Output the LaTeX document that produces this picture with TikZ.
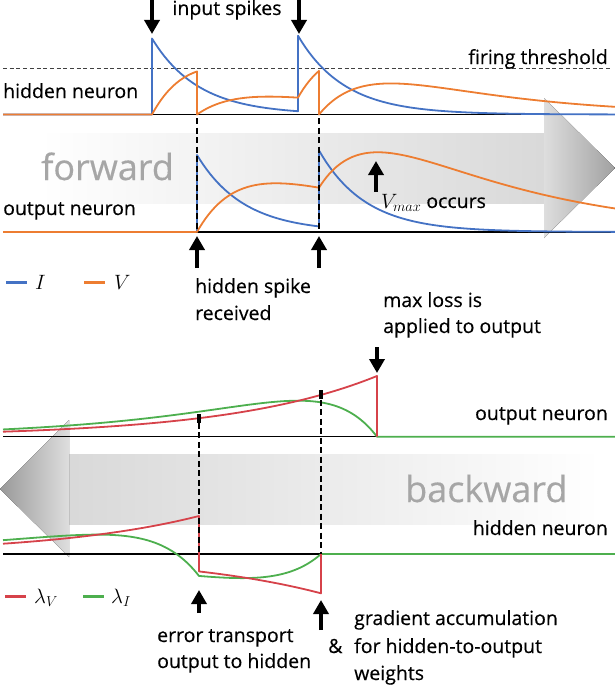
\documentclass[tikz,border=0pt]{standalone}
\usepackage{fontspec}
\setmainfont{Open Sans}[FakeBold=0.4]
\usetikzlibrary{arrows.meta}
\definecolor{cI}{HTML}{4472C4}
\definecolor{cV}{HTML}{ED7D31}
\definecolor{cLV}{HTML}{D6424A}
\definecolor{cLI}{HTML}{4DAF4E}
\definecolor{bigtxt}{HTML}{A6A6A6}
\begin{document}
\begin{tikzpicture}[x=1pt,y=-1pt,
  crv/.style={line width=1.8pt,line join=round},
  axisline/.style={black,line width=1.3pt},
  lbl/.style={inner sep=0pt,font=\fontsize{19.5}{24}\selectfont},
  biglbl/.style={inner sep=0pt,font=\fontsize{36}{40}\selectfont,text=bigtxt},
  bigarrow/.style={line width=3.8pt,-{Triangle[width=15pt,length=14pt]}},
  vdash/.style={black,line width=1.4pt,dash pattern=on 6pt off 3.5pt},
  thr/.style={black!75,line width=1pt,dash pattern=on 4pt off 2.7pt},
  marker/.style={fill=black,draw=none,minimum width=4pt,minimum height=9pt,inner sep=0pt},
  legline/.style={line width=3pt},
]
\useasboundingbox (0,0) rectangle (615,685);

% ---------- big gradient arrows ----------
\fill[left color=white,right color=black!15] (40,133) rectangle (545,203);
\fill[left color=black!13,right color=black!37] (544,98) -- (615,168) -- (544,238) -- cycle;
\fill[left color=black!15,right color=white] (68,454) rectangle (600,524);
\fill[left color=black!40,right color=black!13] (0,489) -- (69,420) -- (69,557) -- cycle;
\node[biglbl,anchor=base west] (fw) at (41,180) {forward};
\node[biglbl,anchor=base west] (bw) at (405,502) {backward};

% ---------- hidden neuron (forward) ----------
\draw[thr] (3,69) -- (612,69);
\draw[axisline] (3,114.5) -- (615,114.5);
\draw[crv,cI] (3,114.5) -- (152,114.5)
  -- plot[domain=152:298,samples=80] (\x,{114.5-76*exp(-(\x-152)/46.5)})
  -- plot[domain=298:615,samples=120] (\x,{114.5-78.79*exp(-(\x-298)/46.5)});
\draw[crv,cV] (3,114.5)
  -- plot[domain=152:197,samples=40] (\x,{114.5-139.92*(exp(-(\x-152)/120)-exp(-(\x-152)/46.5))})
  -- (197,114.5)
  -- plot[domain=197:298,samples=60] (\x,{114.5-53.16*(exp(-(\x-197)/120)-exp(-(\x-197)/46.5))})
  -- plot[domain=298:319,samples=20] (\x,{114.5-16.853*exp(-(\x-298)/120)-145.06*(exp(-(\x-298)/120)-exp(-(\x-298)/46.5))})
  -- (319,114.5)
  -- plot[domain=319:615,samples=120] (\x,{114.5-92.35*(exp(-(\x-319)/120)-exp(-(\x-319)/46.5))});

% ---------- output neuron (forward) ----------
\draw[axisline] (3,232) -- (615,232);
\draw[crv,cI] (3,232) -- (197,232)
  -- plot[domain=197:319,samples=70] (\x,{232-77*exp(-(\x-197)/46.5)})
  -- plot[domain=319:615,samples=120] (\x,{232-81.59*exp(-(\x-319)/46.5)});
\draw[crv,cV] (3,232)
  -- plot[domain=197:319,samples=70] (\x,{232-119.45*(exp(-(\x-197)/150)-exp(-(\x-197)/46.5))})
  -- plot[domain=319:615,samples=120] (\x,{232-44.30*exp(-(\x-319)/150)-126.57*(exp(-(\x-319)/150)-exp(-(\x-319)/46.5))});

% dashed links hidden -> output
\coordinate (fh1) at (197,114.5); \coordinate (fo1) at (197,232);
\coordinate (fh2) at (319,114.5); \coordinate (fo2) at (319,232);
\draw[vdash,dash phase=6pt] (fh1) -- (fo1);
\draw[vdash,dash phase=6pt] (fh2) -- (fo2);

% ---------- output neuron (backward) ----------
\draw[axisline] (3,436.7) -- (615,436.7);
\draw[crv,cLI] plot[domain=3:377,samples=120] (\x,{436.7-88.3*(exp(-(377-\x)/150)-exp(-(377-\x)/46.5))})
  -- (615,436.7);
\draw[crv,cLV] plot[domain=3:377,samples=120] (\x,{436.7-60.7*exp(-(377-\x)/150)})
  -- (377,436.7);

% ---------- hidden neuron (backward) ----------
\draw[axisline,line width=1.1pt] (3,554) -- (615,554);
\draw[crv,cLI]
  plot[domain=3:199,samples=100] (\x,{554+22*exp(-(199-\x)/46.5)-55.3*(exp(-(199-\x)/150)-exp(-(199-\x)/46.5))})
  -- plot[domain=199:321,samples=70] (\x,{554+59.1*(exp(-(321-\x)/150)-exp(-(321-\x)/46.5))})
  -- (615,554);
\draw[crv,cLV]
  plot[domain=3:199,samples=100] (\x,{554-38*exp(-(199-\x)/150)})
  -- plot[domain=199:321,samples=60] (\x,{554+39.3*exp(-(321-\x)/150)})
  -- (321,554);

% markers and dashed links output -> hidden
\node[marker] (mk1) at (199,{436.7-60.7*exp(-178/150)}) {};
\node[marker] (mk2) at (321,{436.7-60.7*exp(-56/150)}) {};
\coordinate (bh1) at (199,554); \coordinate (bh2) at (321,554);
\draw[vdash] (mk1.south) -- (bh1);
\draw[vdash] (mk2.south) -- (bh2);

% ---------- arrows ----------
\coordinate (in1s) at (152,-1); \coordinate (in1e) at (152,34);
\coordinate (in2s) at (299,-1); \coordinate (in2e) at (299,34);
\draw[bigarrow] (in1s) -- (in1e);
\draw[bigarrow] (in2s) -- (in2e);
\coordinate (r1s) at (197,268); \coordinate (r1e) at (197,236);
\coordinate (r2s) at (319,268); \coordinate (r2e) at (319,236);
\draw[bigarrow] (r1s) -- (r1e);
\draw[bigarrow] (r2s) -- (r2e);
\coordinate (vms) at (376,192); \coordinate (vme) at (376,161);
\draw[bigarrow] (vms) -- (vme);
\coordinate (mls) at (377,347); \coordinate (mle) at (377,373);
\draw[bigarrow] (mls) -- (mle);
\coordinate (e1s) at (199,613); \coordinate (e1e) at (199,590);
\coordinate (e2s) at (321,630); \coordinate (e2e) at (321,600);
\draw[bigarrow] (e1s) -- (e1e);
\draw[bigarrow] (e2s) -- (e2e);

% ---------- texts ----------
\node[lbl,anchor=base] (tin) at (227,15) {input spikes};
\node[lbl,anchor=base east] (tthr) at (608,64) {firing threshold};
\node[lbl,anchor=base west] (thid) at (3,98) {hidden neuron};
\node[lbl,anchor=base west] (tout) at (3,215) {output neuron};
\node[lbl,anchor=base west] (tvmax) at (381,208) {$V_{max}$ occurs};
\node[lbl,anchor=base west] (ths1) at (195,293) {hidden spike};
\node[lbl,anchor=base west] (ths2) at (195,320) {received};
\node[lbl,anchor=base west] (tml1) at (383,307) {max loss is};
\node[lbl,anchor=base west] (tml2) at (383,333) {applied to output};
\node[lbl,anchor=base east] (tbout) at (608,420) {output neuron};
\node[lbl,anchor=base east] (tbhid) at (608,535) {hidden neuron};
\node[lbl,anchor=base west] (tet1) at (157,642) {error transport};
\node[lbl,anchor=base west] (tet2) at (157,668) {output to hidden};
\node[lbl,anchor=base west] (tamp) at (328,653) {\&};
\node[lbl,anchor=base west] (tga1) at (354,625) {gradient accumulation};
\node[lbl,anchor=base west] (tga2) at (354,653) {for hidden-to-output};
\node[lbl,anchor=base west] (tga3) at (354,680) {weights};

% ---------- legends ----------
\coordinate (lIa) at (6,282); \coordinate (lIb) at (27,282);
\coordinate (lVa) at (84,282); \coordinate (lVb) at (105,282);
\draw[legline,cI] (lIa) -- (lIb);
\draw[legline,cV] (lVa) -- (lVb);
\node[lbl,anchor=west] (tI) at (35,282) {$I$};
\node[lbl,anchor=west] (tV) at (114,282) {$V$};
\coordinate (lLVa) at (5,596); \coordinate (lLVb) at (26,596);
\coordinate (lLIa) at (83,596); \coordinate (lLIb) at (104,596);
\draw[legline,cLV] (lLVa) -- (lLVb);
\draw[legline,cLI] (lLIa) -- (lLIb);
\node[lbl,anchor=west] (tLV) at (34,598) {$\lambda_V$};
\node[lbl,anchor=west] (tLI) at (111,598) {$\lambda_I$};
\end{tikzpicture}
\end{document}
